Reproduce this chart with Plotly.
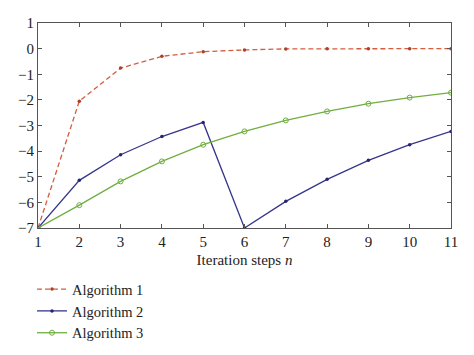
import plotly.graph_objects as go

steps = [1, 2, 3, 4, 5, 6, 7, 8, 9, 10, 11]
alg1 = [-7.0, -2.05, -0.76, -0.30, -0.12, -0.05, -0.01, 0.0, 0.0, 0.0, 0.0]
alg2 = [-7.0, -5.14, -4.14, -3.43, -2.88, -7.0, -5.96, -5.10, -4.36, -3.75, -3.23]
alg3 = [-7.0, -6.11, -5.18, -4.40, -3.75, -3.23, -2.80, -2.45, -2.15, -1.91, -1.72]
names = ["Algorithm 1", "Algorithm 2", "Algorithm 3"]
yticks = [-7, -6, -5, -4, -3, -2, -1, 0, 1]

FONT = "Liberation Serif"

fig = go.Figure()
fig.add_trace(go.Scatter(x=steps, y=alg1, name=names[0], mode="lines+markers",
                         line=dict(color="#d35d3c", width=1.3, dash="5px,3px"),
                         marker=dict(symbol="circle", size=3.5, color="#a8402c")))
fig.add_trace(go.Scatter(x=steps, y=alg2, name=names[1], mode="lines+markers",
                         line=dict(color="#35358c", width=1.3),
                         marker=dict(symbol="circle", size=3.5, color="#262670")))
fig.add_trace(go.Scatter(x=steps, y=alg3, name=names[2], mode="lines+markers",
                         line=dict(color="#6fae3f", width=1.3),
                         marker=dict(symbol="circle-open", size=5, color="#6fae3f",
                                     line=dict(width=1))))

axis_common = dict(showgrid=False, zeroline=False, showline=True, linecolor="#555555",
                   linewidth=1, mirror="ticks", ticks="inside", ticklen=4,
                   tickcolor="#555555", automargin=False,
                   tickfont=dict(family=FONT, size=15, color="#222222"))

# page body has an 8px margin, so the figure is sized/offset to compensate
fig.update_layout(
    width=466, height=347,
    margin=dict(l=30, r=23, t=15, b=127, autoexpand=False),
    paper_bgcolor="white", plot_bgcolor="white",
    font=dict(family=FONT, size=15, color="#222222"),
    xaxis=dict(range=[1, 11], tickmode="array", tickvals=steps,
               title=dict(text="Iteration steps <i>n</i>", standoff=5,
                          font=dict(family=FONT, size=15, color="#222222")),
               **axis_common),
    yaxis=dict(range=[-7, 1], tickmode="array", tickvals=yticks,
               ticktext=[str(v).replace("-", "\u2212") for v in yticks],
               **axis_common),
    legend=dict(x=0.0515, y=0.236, xref="container", yref="container",
                xanchor="left", yanchor="top",
                font=dict(family=FONT, size=14.5, color="#222222"),
                tracegroupgap=0, itemwidth=30, bgcolor="rgba(0,0,0,0)"),
    showlegend=True,
)

fig.write_html("out.html")
